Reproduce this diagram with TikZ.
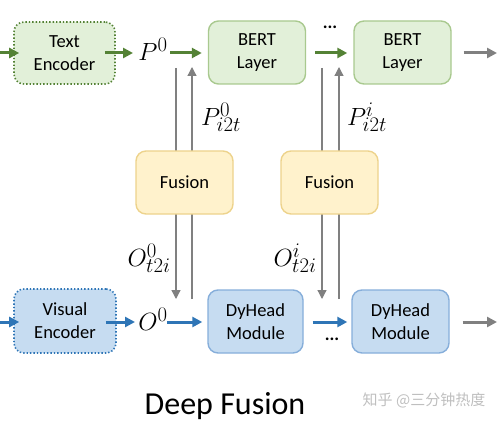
\documentclass[tikz,border=0pt]{standalone}
\usepackage{fontspec}
\setmainfont{Carlito}
\newfontfamily\cjk{Noto Sans CJK SC}
\usetikzlibrary{arrows.meta}
\definecolor{gfill}{HTML}{E2F0D9}
\definecolor{gline}{HTML}{A9C98F}
\definecolor{garr}{HTML}{548235}
\definecolor{bfill}{HTML}{C6DCF1}
\definecolor{bline}{HTML}{86AEDA}
\definecolor{barr}{HTML}{2E75B6}
\definecolor{yfill}{HTML}{FFF2CC}
\definecolor{yline}{HTML}{EDD38C}
\definecolor{grarr}{HTML}{808080}
\tikzset{
  blk/.style={rounded corners=10pt, line width=1.4pt, minimum width=97pt, minimum height=63pt,
    align=center, font=\fontsize{18.5}{23}\selectfont, inner sep=0pt},
  gblk/.style={blk, fill=gfill, draw=gline},
  bblk/.style={blk, fill=bfill, draw=bline},
  yblk/.style={blk, fill=yfill, draw=yline},
  encg/.style={gblk, draw=garr, dotted, line width=1.6pt},
  encb/.style={bblk, draw=barr, dotted, line width=1.6pt},
  harr/.style={line width=3pt, -{Triangle[length=10pt,width=10pt]}},
  ga/.style={harr, draw=garr, color=garr},
  ba/.style={harr, draw=barr, color=barr},
  gr/.style={harr, draw=grarr, color=grarr},
  varr/.style={line width=1.3pt, draw=grarr, -{Triangle[length=9pt,width=9pt]}, color=grarr},
  mlab/.style={inner sep=0pt, font=\fontsize{30}{30}\selectfont},
  dots/.style={inner sep=0pt, font=\fontsize{18}{18}\selectfont\bfseries},
}
\begin{document}
\begin{tikzpicture}[x=1pt,y=-1pt]
\useasboundingbox (0,0) rectangle (497,422);
% vertical lines first (behind fusion)
\coordinate (a1t) at (176,68);  \coordinate (a1b) at (176,299);
\coordinate (b1t) at (192,67);  \coordinate (b1b) at (192,299);
\coordinate (a2t) at (322,68);  \coordinate (a2b) at (322,299);
\coordinate (b2t) at (339,67);  \coordinate (b2b) at (339,299);
\draw[varr] (a1t) -- (a1b);
\draw[varr] (b1b) -- (b1t);
\draw[varr] (a2t) -- (a2b);
\draw[varr] (b2b) -- (b2t);

% nodes
\node[encg, minimum width=101pt, minimum height=62pt] (te) at (64.5,53) {Text\\Encoder};
\node[gblk] (bert1) at (257,52.5) {BERT\\Layer};
\node[gblk] (bert2) at (402.5,52.5) {BERT\\Layer};
\node[yblk] (fus1) at (184.5,182.5) {Fusion};
\node[yblk] (fus2) at (329.5,182.5) {Fusion};
\node[encb, minimum width=102pt, minimum height=64pt] (ve) at (65,321) {Visual\\Encoder};
\node[bblk, minimum width=95pt] (dy1) at (255.5,321.5) {DyHead\\Module};
\node[bblk] (dy2) at (400.5,321.5) {DyHead\\Module};

\node[mlab] (p0) at (153,49) {$P^0$};
\node[mlab] (o0) at (153,319) {$O^0$};
\node[mlab] (pi2t0) at (221,117) {$P^0_{i2t}$};
\node[mlab] (pi2ti) at (367,117) {$P^i_{i2t}$};
\node[mlab] (ot2i0) at (149,258) {$O^0_{t2i}$};
\node[mlab] (ot2ii) at (295,258) {$O^i_{t2i}$};
\node[dots] (d1) at (330,27) {...};
\node[dots] (d2) at (332,339) {...};

\coordinate (tin) at (0,53);
\coordinate (vin) at (0,322);
\coordinate (tout) at (497,53);
\coordinate (vout) at (497,322);

% horizontal arrows
\draw[ga] (tin) -- ([xshift=6pt]te.west);
\draw[ga] ([xshift=-11pt]te.east) -- (133,53);
\draw[ga] (170,53) -- ([xshift=-6pt]bert1.west |- 0,53);
\draw[ga] ([xshift=9pt]bert1.east |- 0,53) -- ([xshift=-6pt]bert2.west |- 0,53);
\draw[gr] ([xshift=12pt]bert2.east |- 0,53) -- (tout);

\draw[ba] (vin) -- ([xshift=6pt]ve.west |- 0,322);
\draw[ba] ([xshift=-11pt]ve.east |- 0,322) -- (135,322);
\draw[ba] (167,322) -- ([xshift=-5pt]dy1.west |- 0,322);
\draw[ba] ([xshift=9pt]dy1.east |- 0,322) -- ([xshift=-4pt]dy2.west |- 0,322);
\draw[gr] ([xshift=13pt]dy2.east |- 0,322) -- (vout);

\node[font=\fontsize{32}{32}\selectfont, inner sep=0pt] (title) at (225,406) {Deep Fusion};
\node[font=\cjk\fontsize{15}{15}\selectfont, text=black!25, inner sep=0pt] (wm) at (424,400) {知乎 @三分钟热度};
\end{tikzpicture}
\end{document}
